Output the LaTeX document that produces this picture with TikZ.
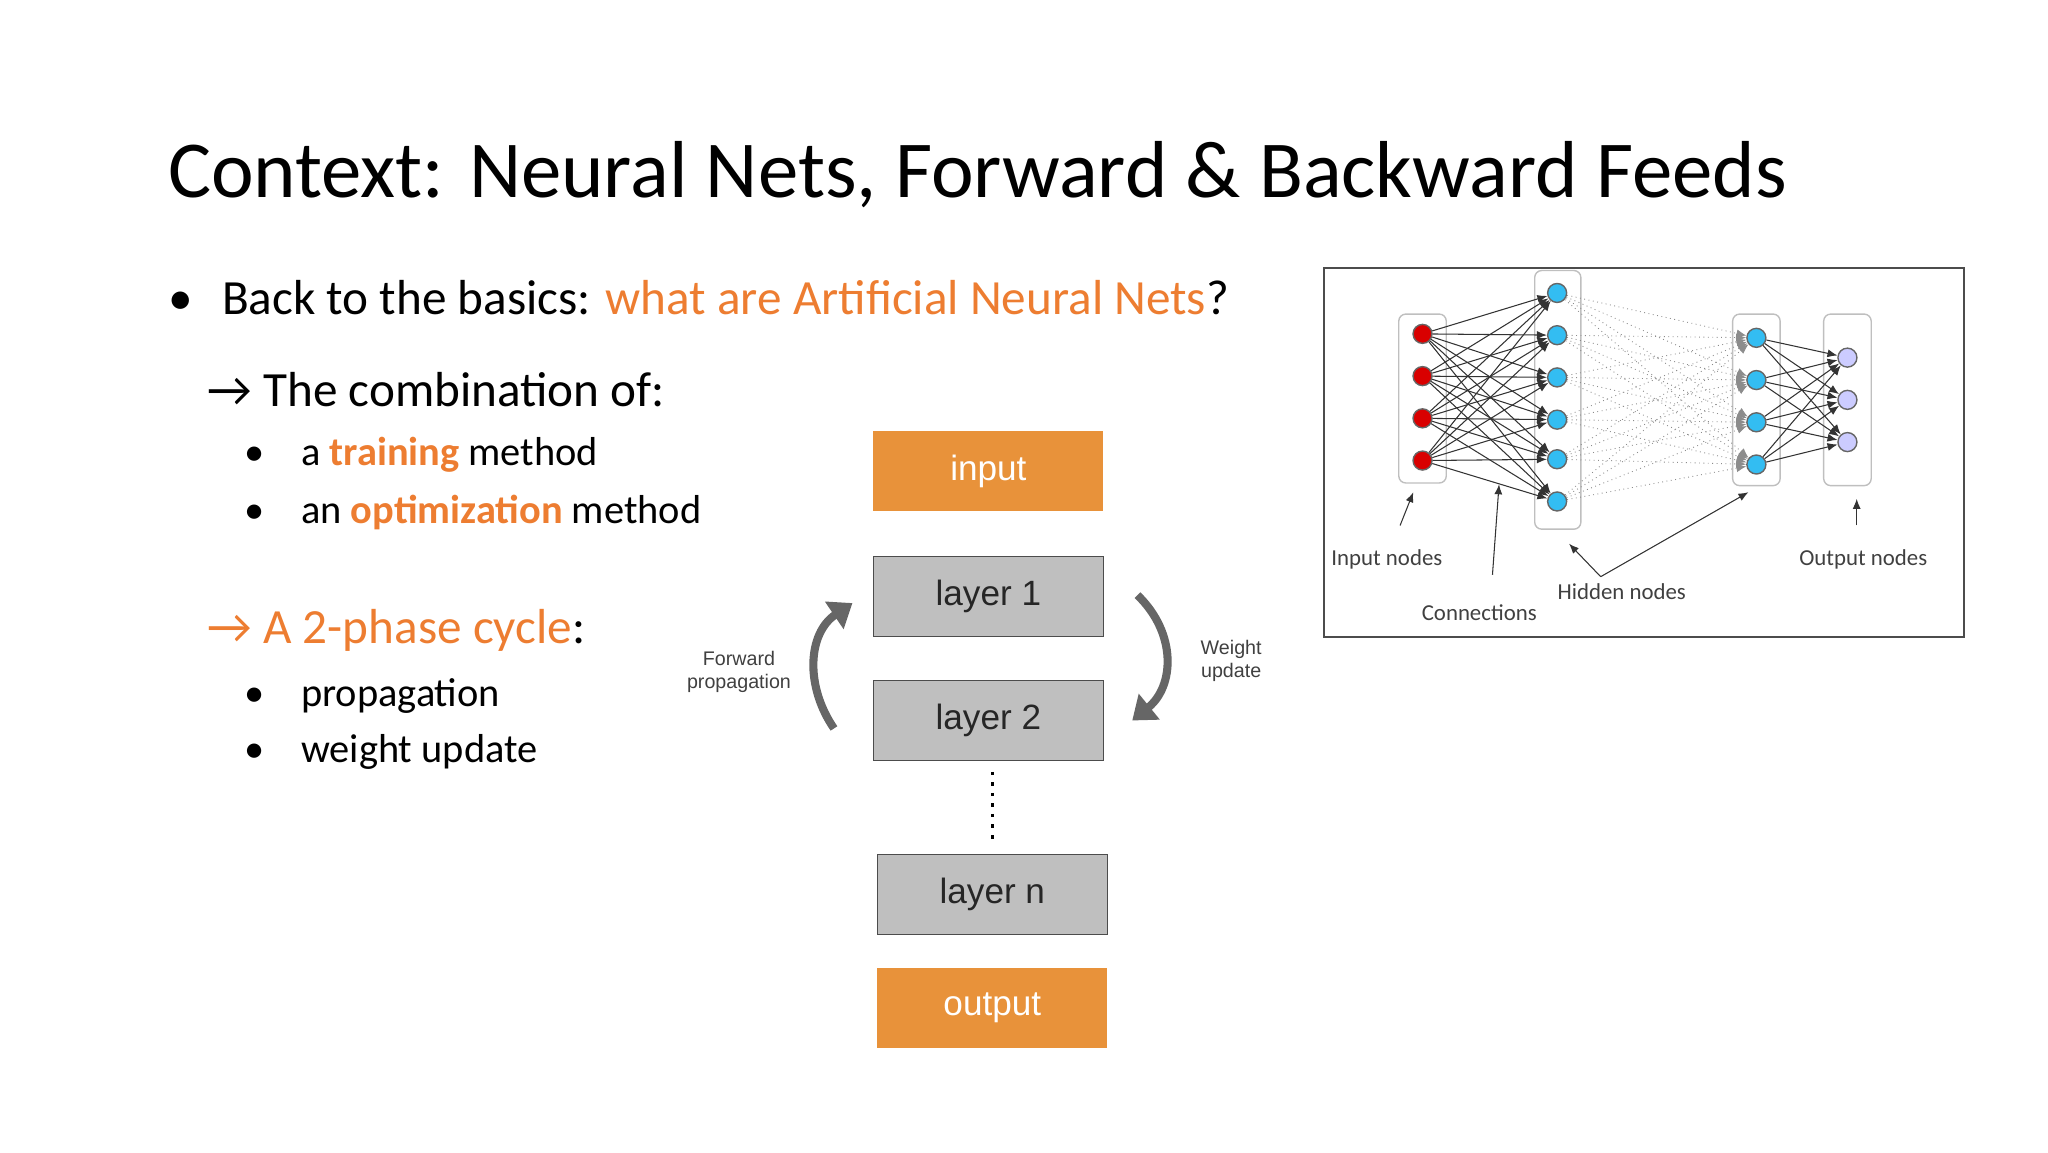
\documentclass[tikz,border=0pt]{standalone}
\usepackage{fontspec}
\setmainfont{Carlito}
\newfontfamily\arialf{Liberation Sans}
\usetikzlibrary{arrows.meta}
\definecolor{accent}{HTML}{ED7D31}
\definecolor{boxorange}{HTML}{E8923A}
\definecolor{boxgrey}{HTML}{BFBFBF}
\tikzset{
  stage/.style={draw=black!70,fill=boxgrey,minimum width=2.3cm,minimum height=0.8cm,font=\arialf\fontsize{10}{12}\selectfont,text=black!85},
  endstage/.style={fill=boxorange,minimum width=2.3cm,minimum height=0.8cm,font=\arialf\fontsize{10}{12}\selectfont,text=white},
  neuron/.style={circle,draw=black!60,minimum size=0.19cm,inner sep=0pt},
  link/.style={-{Latex[length=1mm,width=0.8mm]},black!80,line width=0.3pt},
  flink/.style={-{Latex[length=1mm,width=0.8mm]},black!45,line width=0.25pt,densely dotted},
  col/.style={draw=black!25,rounded corners=2pt},
  tag/.style={font=\arialf\fontsize{5.6}{6.5}\selectfont,text=black!75,align=center},
  cyc/.style={line width=2.3pt,black!60,-{Triangle[length=2.2mm,width=3.2mm]}}
}
\begin{document}
\begin{tikzpicture}[x=0.013196cm,y=-0.013196cm]
  \useasboundingbox (0,0) rectangle (1552,873);
  % title and bullets
  \node[anchor=base west,font=\fontsize{23}{27}\selectfont] (title) at (118,150) {Context: Neural Nets, Forward \& Backward Feeds};
  \node[anchor=base west,font=\fontsize{14}{17}\selectfont] (b1) at (118,238) {\textbullet\hspace{0.6em}Back to the basics: \textcolor{accent}{what are Artificial Neural Nets}?};
  \node[anchor=base west,font=\fontsize{14}{17}\selectfont] (b2) at (148,308) {→ The combination of:};
  \node[anchor=base west,font=\fontsize{11.5}{14}\selectfont] (b3) at (176,353) {\textbullet\hspace{0.9em}a \textcolor{accent}{\textbf{training}} method};
  \node[anchor=base west,font=\fontsize{11.5}{14}\selectfont] (b4) at (176,397) {\textbullet\hspace{0.9em}an \textcolor{accent}{\textbf{optimization}} method};
  \node[anchor=base west,font=\fontsize{14}{17}\selectfont] (b5) at (148,488) {\textcolor{accent}{→ A 2-phase cycle}:};
  \node[anchor=base west,font=\fontsize{11.5}{14}\selectfont] (b6) at (176,535) {\textbullet\hspace{0.9em}propagation};
  \node[anchor=base west,font=\fontsize{11.5}{14}\selectfont] (b7) at (176,578) {\textbullet\hspace{0.9em}weight update};
  % layer stack
  \node[endstage] (in) at (749,357) {input};
  \node[stage] (l1) at (749,452) {layer 1};
  \node[stage] (l2) at (749,546) {layer 2};
  \node[stage] (ln) at (752,678) {layer n};
  \node[endstage] (out) at (752,764) {output};
  \draw[dotted,line width=1pt] (l2.south) ++(3,8) -- ++(0,55);
  \coordinate (fa) at (632,552);
  \coordinate (fb) at (646,457);
  \coordinate (wa) at (862,451);
  \coordinate (wb) at (858,546);
  \draw[cyc] (fa) .. controls (610,520) and (612,480) .. (fb);
  \draw[cyc] (wa) .. controls (892,480) and (890,520) .. (wb);
  \node[tag] (fp) at (560,509) {Forward\\propagation};
  \node[tag] (wu) at (933,501) {Weight\\update};
  % network picture
  \draw[black!70,line width=0.6pt] (1003,203) rectangle (1488,483);
  \draw[col] (1060,238) rectangle (1096,366);
  \draw[col] (1163,205) rectangle (1198,401);
  \draw[col] (1313,238) rectangle (1349,368);
  \draw[col] (1382,238) rectangle (1418,368);
  \foreach \i/\y in {1/253,2/285,3/317,4/349}
    \node[neuron,fill=red!85!black] (i\i) at (1078,\y) {};
  \foreach \i/\y in {1/222,2/254,3/286,4/318,5/348,6/380}
    \node[neuron,fill=cyan!80!white] (h\i) at (1180,\y) {};
  \foreach \i/\y in {1/256,2/288,3/320,4/352}
    \node[neuron,fill=cyan!80!white] (g\i) at (1331,\y) {};
  \foreach \i/\y in {1/271,2/303,3/335}
    \node[neuron,fill=blue!20] (o\i) at (1400,\y) {};
  \foreach \a in {1,...,4}
    \foreach \b in {1,...,6}
      \draw[link] (i\a) -- (h\b);
  \foreach \a in {1,...,6}
    \foreach \b in {1,...,4}
      \draw[flink] (h\a) -- (g\b);
  \foreach \a in {1,...,4}
    \foreach \b in {1,...,3}
      \draw[link] (g\a) -- (o\b);
  \node[tag,font=\fontsize{6.5}{7.5}\selectfont] (tin) at (1051,424) {Input nodes};
  \node[tag,font=\fontsize{6.5}{7.5}\selectfont] (tcon) at (1121,464) {Connections};
  \node[tag,font=\fontsize{6.5}{7.5}\selectfont] (thid) at (1229,448) {Hidden nodes};
  \node[tag,font=\fontsize{6.5}{7.5}\selectfont] (tout) at (1412,424) {Output nodes};
  \coordinate (pin) at (1071,373);
  \coordinate (pcon) at (1136,367);
  \coordinate (ph1) at (1189,412);
  \coordinate (ph2) at (1325,373);
  \coordinate (pout) at (1407,378);
  \coordinate (hj) at (1213,437);
  \draw[link] (tin.north) ++(10,-9) -- (pin);
  \draw[link] (tcon.north) ++(10,-13) -- (pcon);
  \draw[link] (hj) -- (ph1);
  \draw[link] (hj) -- (ph2);
  \draw[link] (tout.north) ++(-5,-9) -- (pout);
\end{tikzpicture}
\end{document}
